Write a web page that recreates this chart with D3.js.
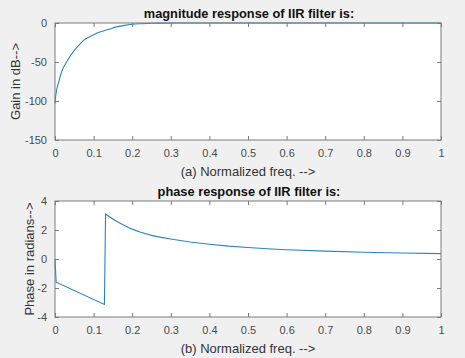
<!DOCTYPE html>
<html><head><meta charset="utf-8">
<script src="https://cdn.jsdelivr.net/npm/d3@7"></script>
<style>
html,body{margin:0;padding:0;background:#f0f0f0;}
svg{display:block;font-family:"Liberation Sans",Arial,sans-serif;}
</style></head><body>
<svg id="c" width="465" height="358"></svg>
<script>
const xTicks = [0,0.1,0.2,0.3,0.4,0.5,0.6,0.7,0.8,0.9,1];
const magTicks = [0,-50,-100,-150];
const phaseTicks = [-4,-2,0,2,4];

const magFreq = [0,0.002,0.005,0.01,0.015,0.02,0.03,0.04,0.05,0.06,0.075,0.09,0.1,0.12,0.14,0.16,0.18,0.2,0.225,0.25,0.275,0.3,0.35,0.4,0.5,0.6,0.7,0.8,0.9,1];
const magDb   = [-103,-93,-84,-75,-66,-59,-50,-42,-35,-29.5,-22,-17.5,-15,-11,-8,-5,-3,-1.6,-0.9,-0.4,-0.15,0,0,0,0,0,0,0,0,0];

const phFreq = [0,0.003,0.128,0.131,0.14,0.15,0.16,0.17,0.18,0.19,0.2,0.22,0.25,0.275,0.3,0.35,0.4,0.45,0.5,0.55,0.6,0.7,0.8,0.9,1];
const phRad  = [0,-1.6,-3.13,3.1,2.93,2.76,2.6,2.45,2.31,2.18,2.06,1.86,1.63,1.49,1.38,1.17,1.02,0.89,0.79,0.71,0.64,0.54,0.47,0.41,0.37];

const svg = d3.select("#c");
const L = 55, R = 441;
const fmt = d => String(d);

function panel(top, bottom, yDomain, yTicks, xs, ys, curve, title, xlabel, ylabel, ylabelX){
  const x = d3.scaleLinear().domain([0,1]).range([L,R]);
  const y = d3.scaleLinear().domain(yDomain).range([bottom,top]);
  const g = svg.append("g");
  g.append("rect").attr("x",L).attr("y",top).attr("width",R-L).attr("height",bottom-top).attr("fill","#fff");
  const line = d3.line().x((d,i)=>x(xs[i])).y((d,i)=>y(ys[i])).curve(curve);
  g.append("path").datum(xs).attr("d",line).attr("fill","none").attr("stroke","#2a84c2").attr("stroke-width",1.1);
  const col = "#7a7a7a";
  const ax = (a)=>{ a.select(".domain").remove(); a.selectAll("line").attr("stroke",col); a.selectAll("text").attr("fill","#4a4a4a").style("font-size","11px"); };
  g.append("g").attr("transform",`translate(0,${bottom})`)
    .call(d3.axisBottom(x).tickValues(xTicks).tickFormat(fmt).tickSizeInner(-4).tickPadding(9)).call(ax);
  g.append("g").attr("transform",`translate(0,${top})`)
    .call(d3.axisTop(x).tickValues(xTicks).tickFormat("").tickSizeInner(-4)).call(ax);
  g.append("g").attr("transform",`translate(${L},0)`)
    .call(d3.axisLeft(y).tickValues(yTicks).tickFormat(fmt).tickSizeInner(-4).tickPadding(8)).call(ax);
  g.append("g").attr("transform",`translate(${R},0)`)
    .call(d3.axisRight(y).tickValues(yTicks).tickFormat("").tickSizeInner(-4)).call(ax);
  g.append("rect").attr("x",L).attr("y",top).attr("width",R-L).attr("height",bottom-top)
    .attr("fill","none").attr("stroke",col).attr("stroke-width",1);
  g.append("text").attr("x",(L+R)/2+1).attr("y",top-5).attr("text-anchor","middle")
    .style("font-size","12.8px").style("font-weight","bold").attr("fill","#111").text(title);
  g.append("text").attr("x",(L+R)/2).attr("y",bottom+36).attr("text-anchor","middle")
    .style("font-size","13px").attr("fill","#333").text(xlabel);
  g.append("text").attr("transform",`translate(${ylabelX},${(top+bottom)/2}) rotate(-90)`).attr("text-anchor","middle")
    .attr("dy","0.35em").style("font-size","13px").attr("fill","#333").text(ylabel);
}

panel(23,140,[-150,0],magTicks,magFreq,magDb,d3.curveMonotoneX,"magnitude response of IIR filter is:","(a) Normalized freq. -->","Gain in dB-->",15);
panel(201,317,[-4,4],phaseTicks,phFreq,phRad,d3.curveLinear,"phase response of IIR filter is:","(b) Normalized freq. -->","Phase in radians-->",29);
</script>
</body></html>
